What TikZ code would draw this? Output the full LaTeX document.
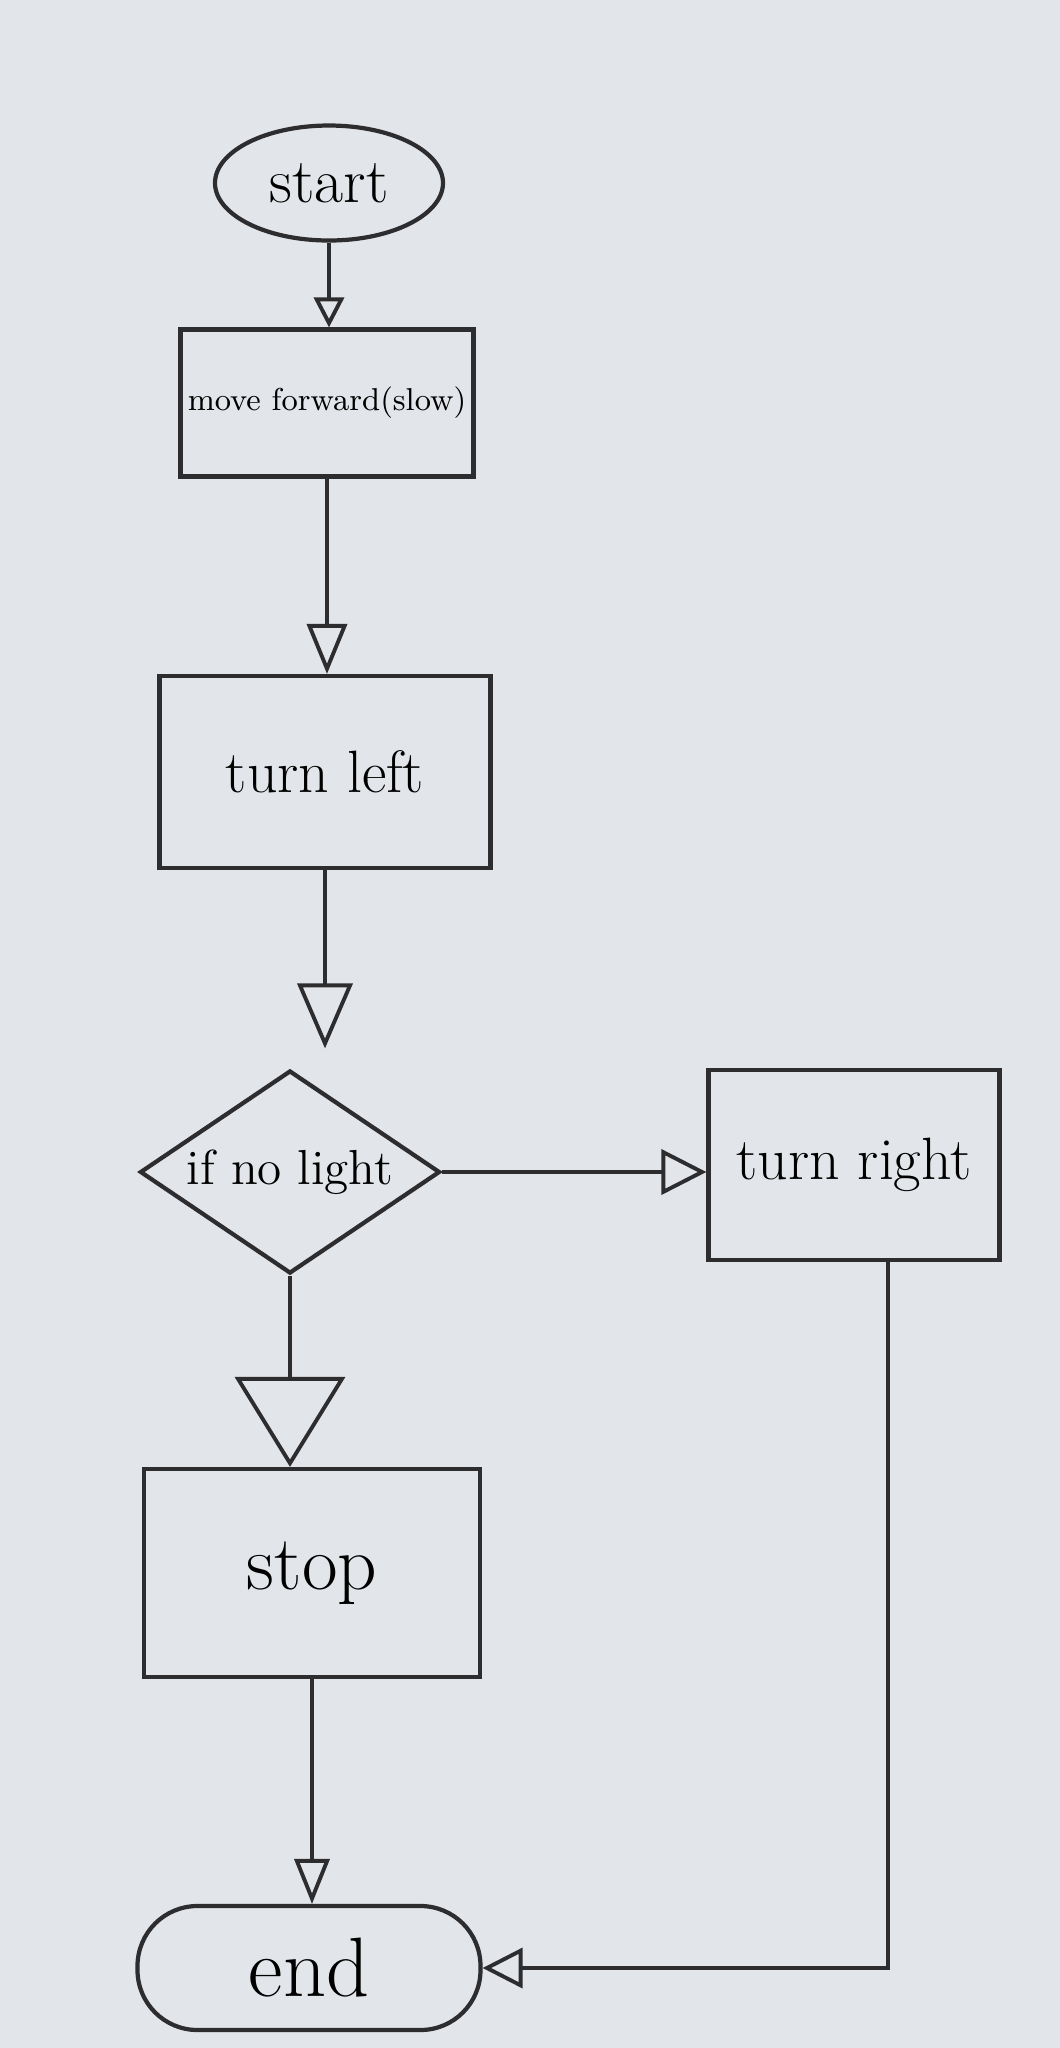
\documentclass[tikz,border=0pt]{standalone}
\usepackage{tikz}
\usetikzlibrary{arrows.meta,shapes.geometric}

\definecolor{paper}{RGB}{226,229,233}
\definecolor{ink}{RGB}{45,45,48}

\tikzset{
  box/.style={draw=ink, line width=1.2pt, align=center, inner sep=0pt},
  flow/.style 2 args={draw=ink, line width=1.1pt, -{Triangle[open, length=#1, width=#2]}}
}

\begin{document}
\begin{tikzpicture}

\fill[paper] (0,0) rectangle (10.6,-20.48);
\useasboundingbox (0,0) rectangle (10.6,-20.48);

\node[box, ellipse, minimum width=2.28cm, minimum height=1.15cm, font=\fontsize{18}{20}\selectfont] (start) at (3.29,-1.83) {start};
\node[box, minimum width=2.93cm, minimum height=1.47cm, font=\fontsize{9}{11}\selectfont] (move) at (3.27,-4.03) {move forward(slow)};
\node[box, minimum width=3.31cm, minimum height=1.92cm, font=\fontsize{17}{19}\selectfont] (left) at (3.25,-7.72) {turn left};
\node[box, diamond, aspect=1.5, minimum width=3.0cm, minimum height=2.03cm, font=\fontsize{14}{16}\selectfont] (light) at (2.90,-11.72) {if no light};
\node[box, minimum width=2.91cm, minimum height=1.90cm, font=\fontsize{17}{19}\selectfont] (right) at (8.54,-11.65) {turn right};
\node[box, minimum width=3.36cm, minimum height=2.08cm, font=\fontsize{22}{24}\selectfont] (stop) at (3.12,-15.73) {stop};
\node[box, rounded corners=0.6cm, minimum width=3.43cm, minimum height=1.24cm, font=\fontsize{24}{26}\selectfont] (end) at (3.09,-19.68) {end};

% main line
\draw[flow={3mm}{3mm}] (start) -- (start |- move.north);
\draw[flow={5mm}{4mm}] (move) -- (move |- left.north);
\draw[flow={6.5mm}{5.5mm}] (left) -- ([yshift=2mm]left |- light.north);
\draw[flow={9mm}{11mm}] (light.south) -- (light.south |- stop.north);
\draw[flow={4.5mm}{3.5mm}] (stop) -- (stop |- end.north);

% branch
\draw[flow={4.5mm}{4.5mm}] (light.east) -- (light.east -| right.west);
\draw[flow={4mm}{4mm}] ([xshift=3.4mm]right.south) |- (end.east);
\end{tikzpicture}
\end{document}
